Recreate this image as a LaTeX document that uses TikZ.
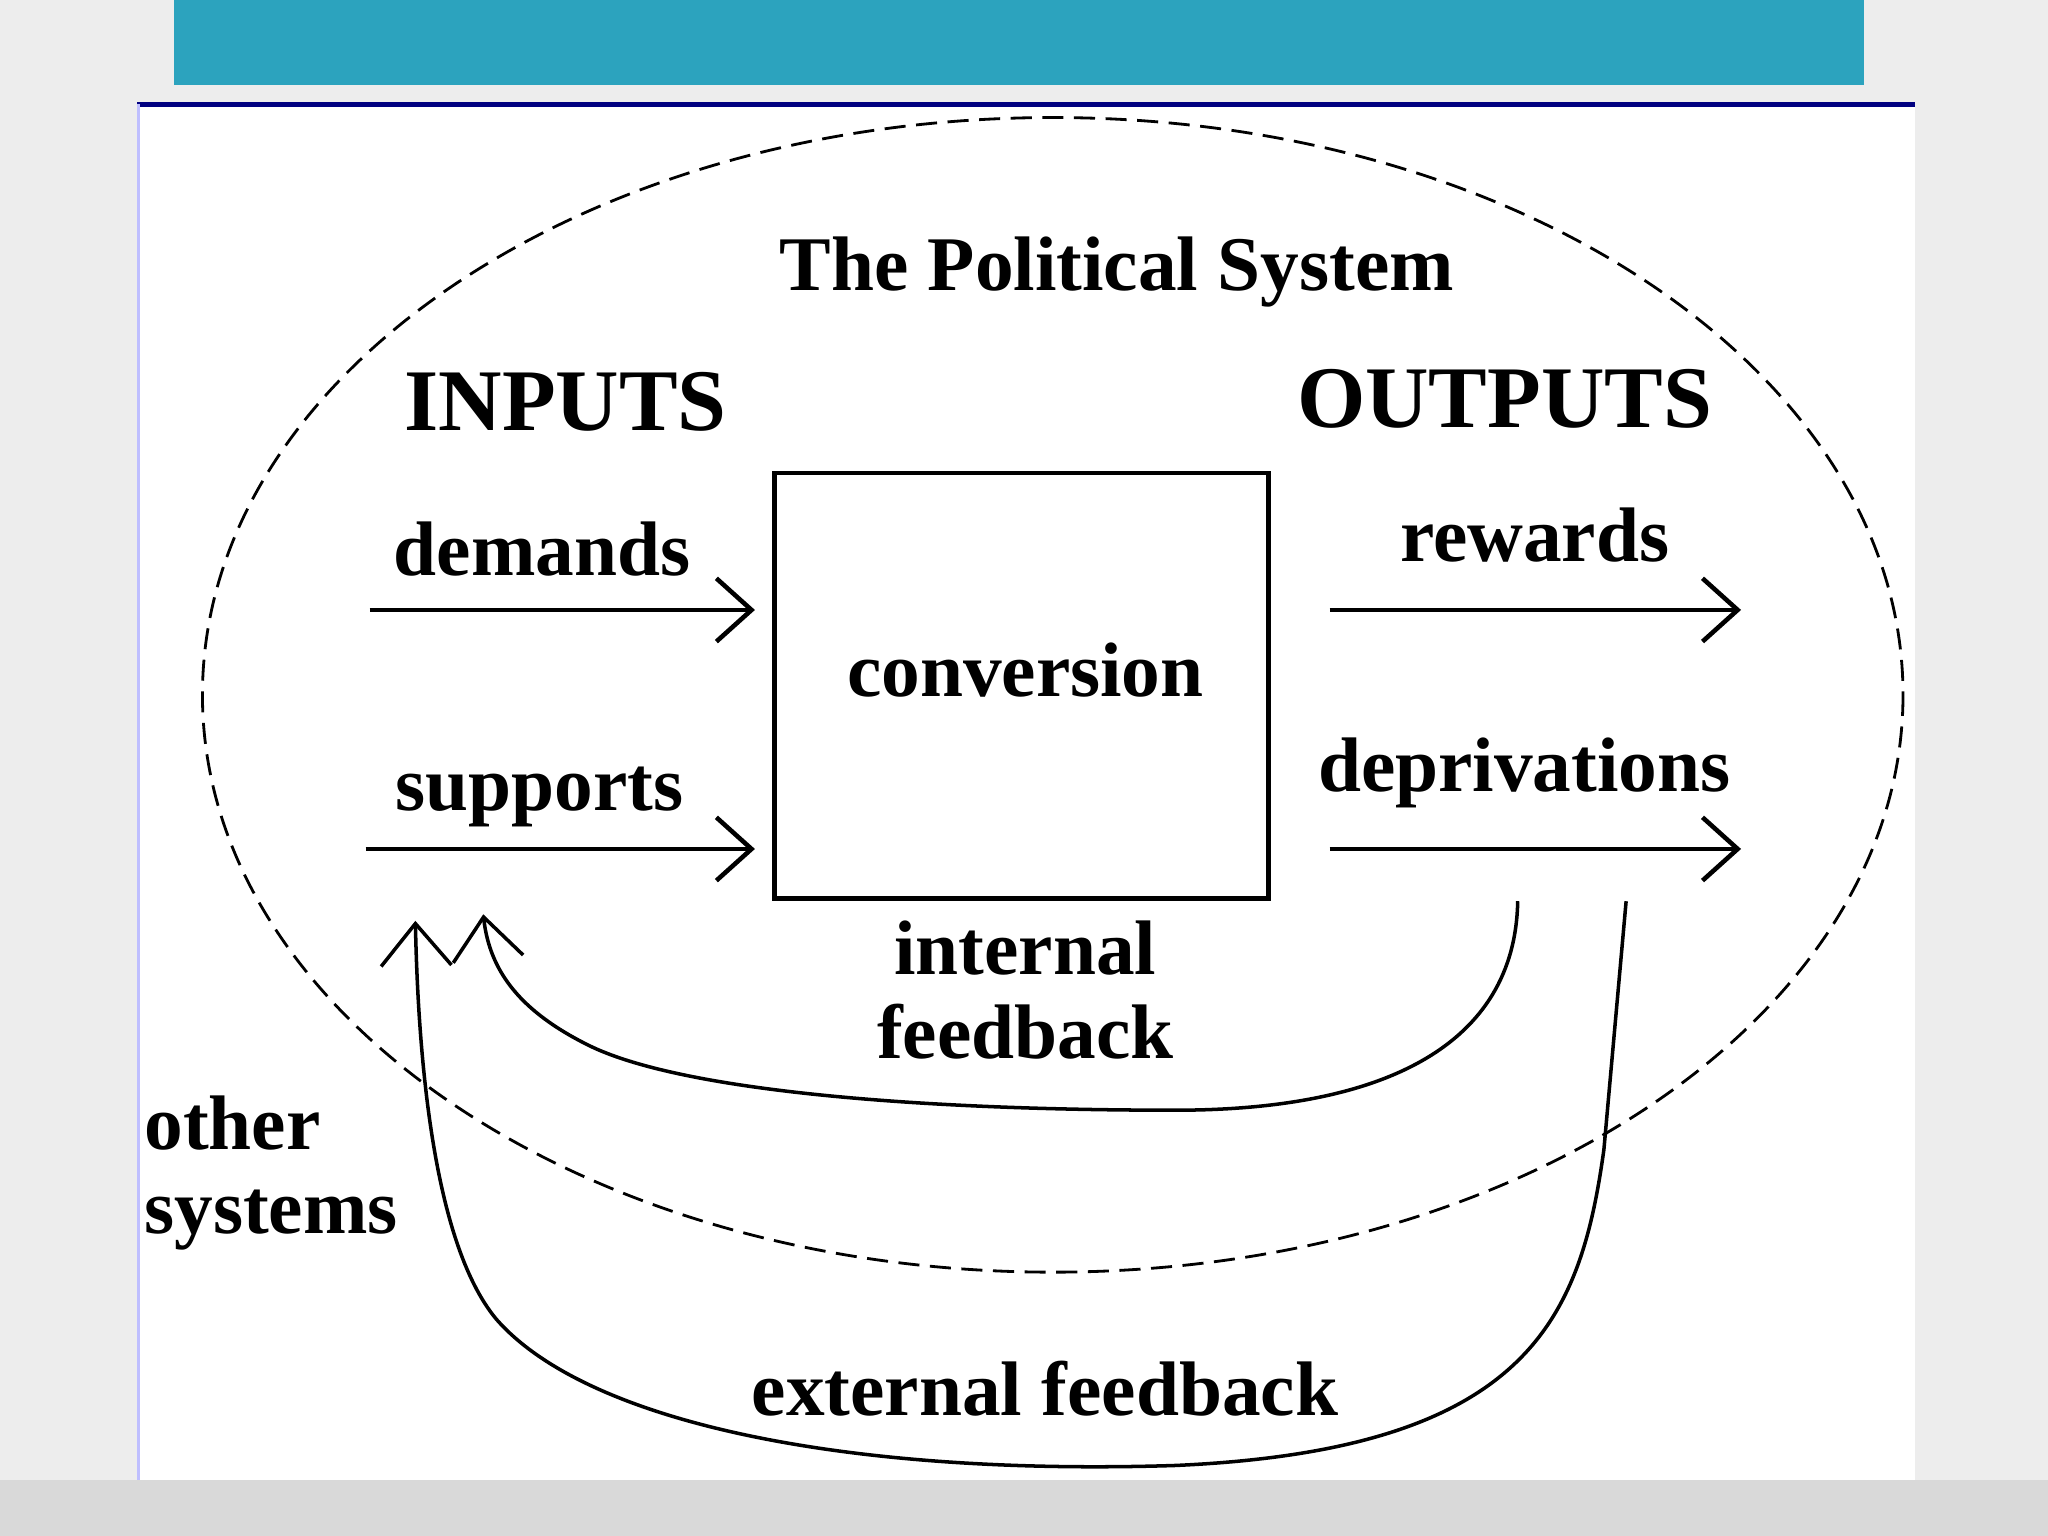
\documentclass[tikz,border=0pt]{standalone}
\usepackage{fontspec}
\setmainfont{Liberation Serif}
\usetikzlibrary{arrows.meta}
\definecolor{teal1}{HTML}{2CA3BE}
\definecolor{bg}{HTML}{EDEDED}
\tikzset{
  lbl/.style={font=\bfseries\fontsize{22}{24}\selectfont, inner sep=0pt},
  big/.style={font=\bfseries\fontsize{25}{27}\selectfont, inner sep=0pt},
  flow/.style={line width=1.3pt, -{Straight Barb[length=10pt,width=18pt]}},
  fb/.style={line width=1pt, -{Straight Barb[length=12pt,width=20pt]}},
}
\begin{document}
\begin{tikzpicture}[x=0.01306cm,y=-0.01306cm]
\useasboundingbox (0,0) rectangle (1568,1176);
\fill[bg] (0,0) rectangle (1568,1176);
\fill[gray!30] (0,1133) rectangle (1568,1176);
\fill[teal1] (133,0) rectangle (1427,65);
\fill[white] (105,79) rectangle (1466,1133);
\draw[blue!50!black, line width=1.2pt] (105,80) -- (1466,80);
\draw[blue!25, line width=0.8pt] (106,80) -- (106,1133);
\draw[dashed, line width=0.8pt, dash pattern=on 6pt off 3pt] (806,532) ellipse [x radius=651, y radius=442];
\node[lbl] (title) at (855,208) {The Political System};
\node[big] (inputs) at (433,308) {INPUTS};
\node[big] (outputs) at (1152,305) {OUTPUTS};
\node[draw, line width=1.3pt, minimum width=378*0.01306cm, minimum height=326*0.01306cm, inner sep=0pt] (box) at (782,525) {};
\node[lbl] (conv) at (785,513) {conversion};
\coordinate (d1) at (283,467); \coordinate (d2) at (578,467);
\coordinate (s1) at (280,650); \coordinate (s2) at (578,650);
\coordinate (r1) at (1018,467); \coordinate (r2) at (1333,467);
\coordinate (p1) at (1018,650); \coordinate (p2) at (1333,650);
\draw[flow] (d1) -- (d2);
\draw[flow] (s1) -- (s2);
\draw[flow] (r1) -- (r2);
\draw[flow] (p1) -- (p2);
\node[lbl] (dem) at (415,420) {demands};
\node[lbl] (sup) at (413,610) {supports};
\node[lbl] (rew) at (1175,410) {rewards};
\node[lbl] (dep) at (1167,592) {deprivations};
\node[lbl, align=center] (int) at (785,758) {internal\\feedback};
\node[lbl, align=left, anchor=west] (oth) at (110,898) {other\\systems};
\node[lbl] (ext) at (800,1063) {external feedback};
\coordinate (i0) at (1162,690);
\coordinate (i1) at (370,700);
\draw[fb] (i0) .. controls (1160,800) and (1060,850) .. (900,850)
  .. controls (700,850) and (520,835) .. (450,800)
  .. controls (400,775) and (375,745) .. (i1);
\coordinate (e0) at (1245,690);
\coordinate (e1) at (318,705);
\draw[fb] (e0) -- (1228,880) .. controls (1210,1010) and (1170,1110) .. (900,1122)
  .. controls (650,1130) and (450,1090) .. (380,1010)
  .. controls (330,950) and (320,800) .. (e1);
\end{tikzpicture}
\end{document}
